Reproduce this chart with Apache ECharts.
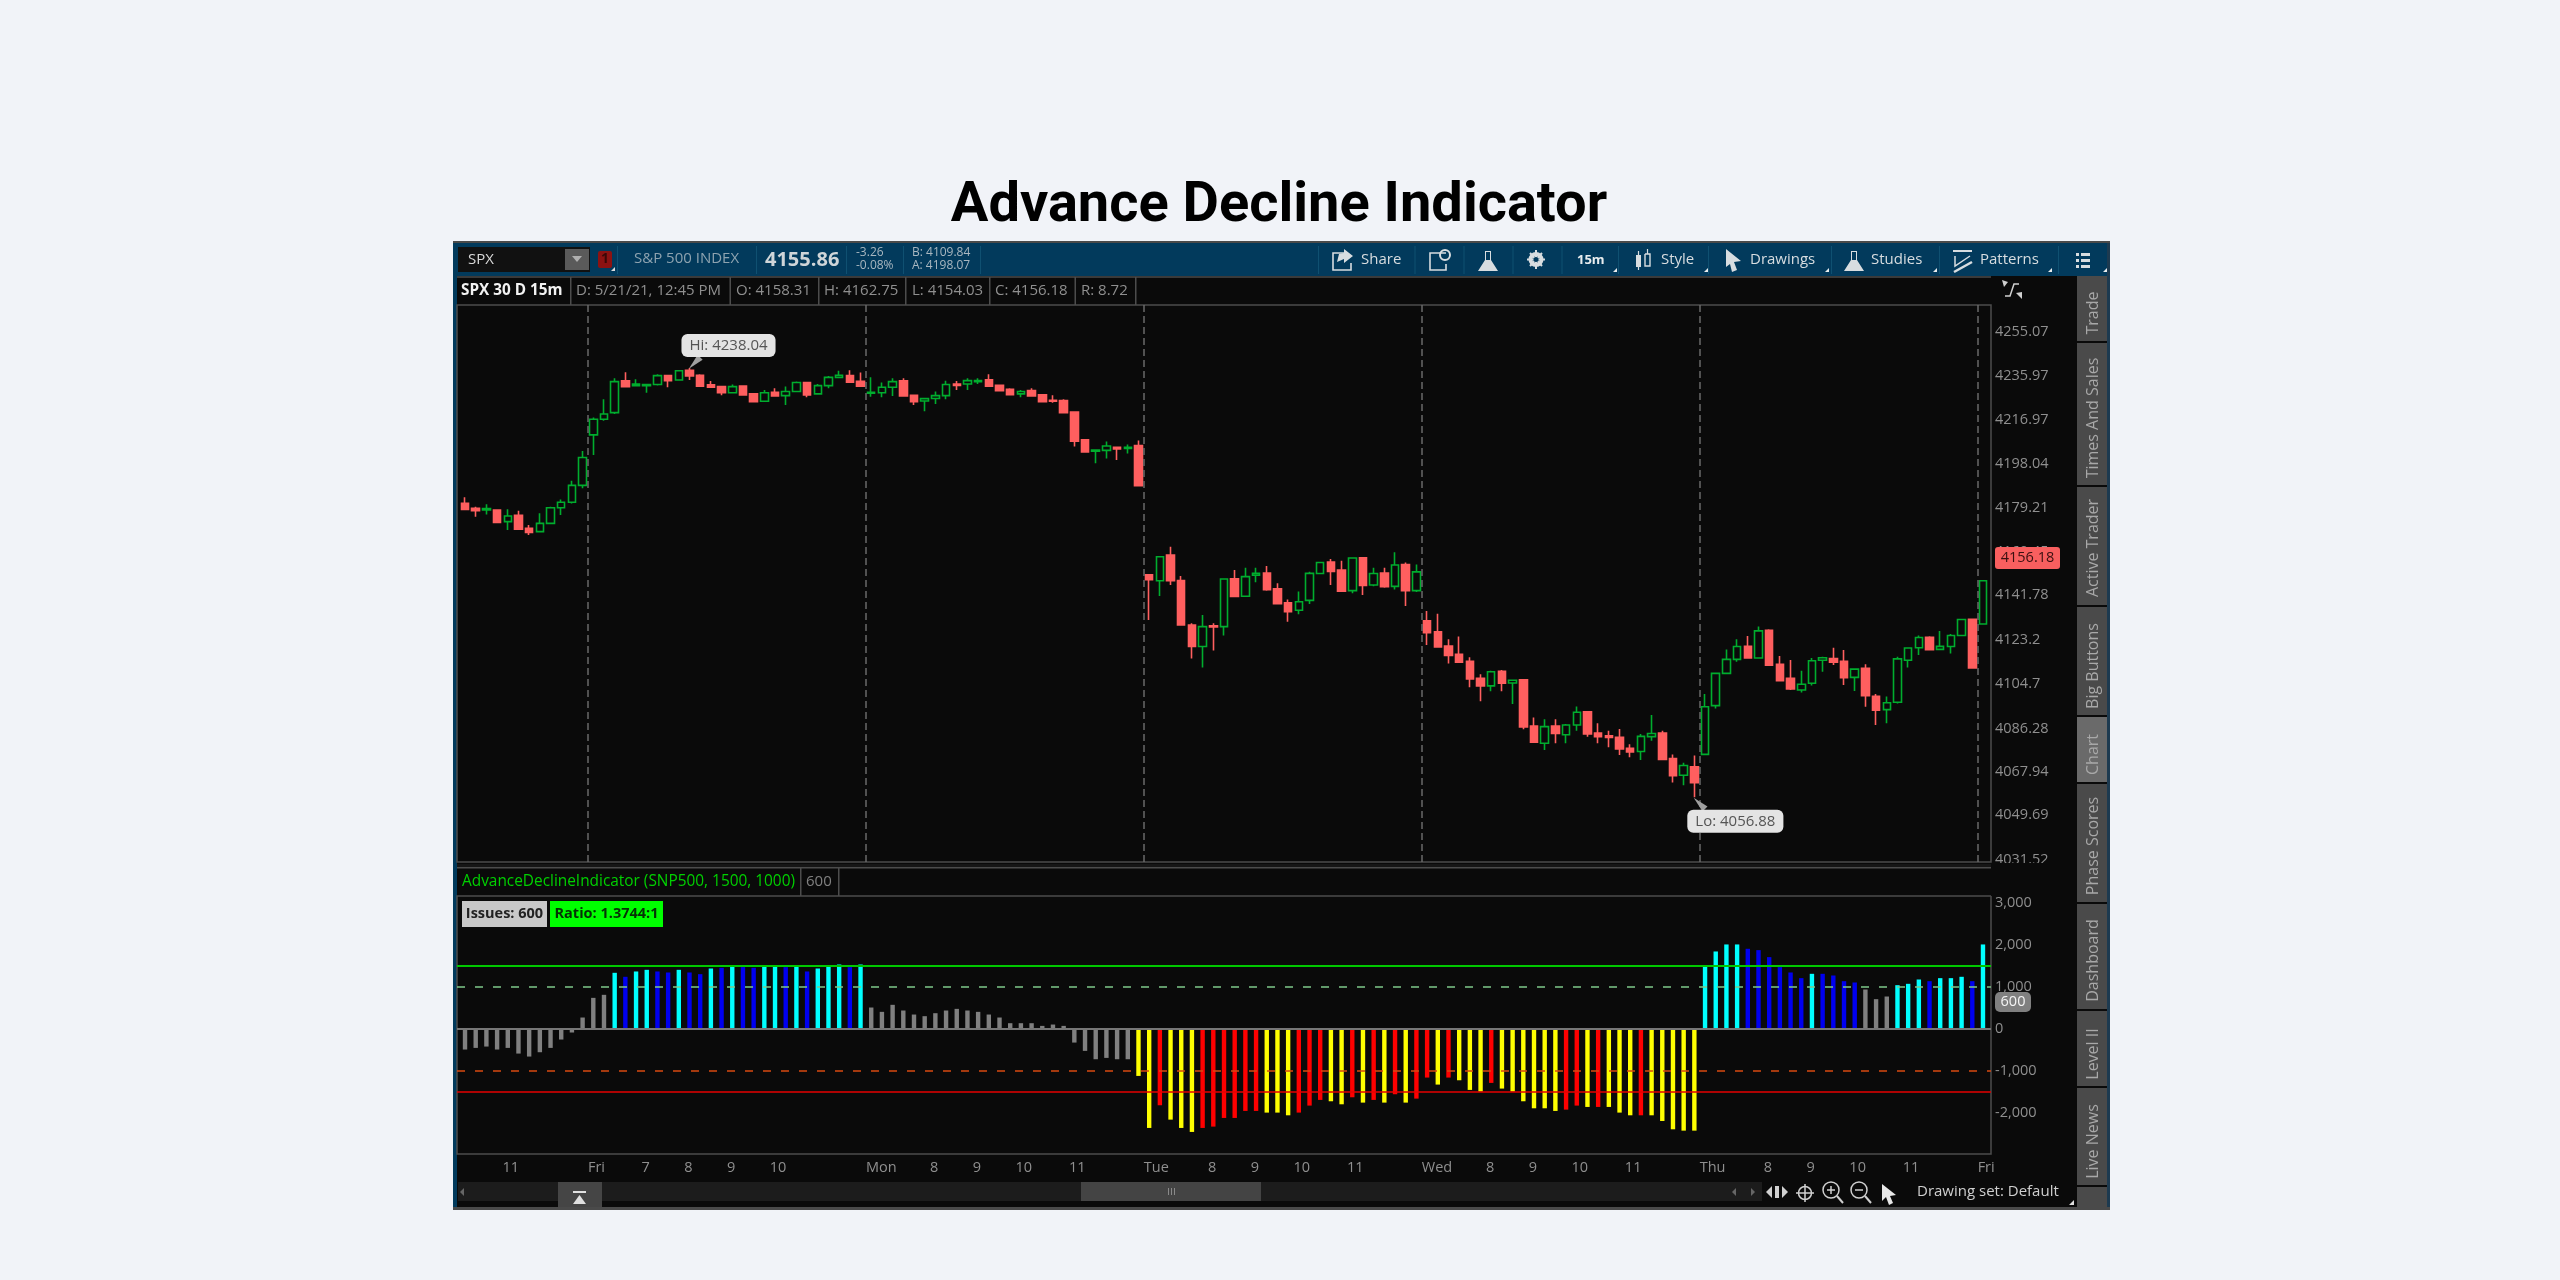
<!DOCTYPE html>
<html>
<head>
<meta charset="utf-8">
<title>Advance Decline Indicator</title>
<style>
    html, body { margin: 0; padding: 0; background: #f1f3f8; }
    #chart { width: 2560px; height: 1280px; }
</style>
<script src="https://cdn.jsdelivr.net/npm/echarts@6/dist/echarts.min.js"></script>
</head>
<body>
<div id="chart"></div>
<script>
// 15m SPX candles
var opens = [
    4180.9,4178.8,4178.1,4178.1,4173.2,4175.9,4170.4,4169.0,4172.5,4179.1,
    4181.4,4188.5,4209.8,4216.4,4219.2,4232.6,4230.6,4230.6,4231.1,4234.8,
    4233.0,4237.1,4235.0,4230.9,4230.2,4227.6,4230.4,4227.1,4224.0,4227.8,
    4226.4,4228.1,4231.9,4227.1,4230.6,4234.1,4234.8,4232.4,4227.4,4227.6,
    4229.9,4232.6,4226.5,4224.1,4225.2,4226.4,4231.3,4231.3,4232.3,4233.1,
    4230.7,4229.0,4227.1,4228.5,4226.7,4224.4,4224.3,4219.5,4207.7,4202.9,
    4203.3,4204.6,4204.1,4205.3,4150.8,4148.3,4159.1,4148.4,4129.6,4120.5,
    4129.3,4128.9,4149.1,4141.7,4150.6,4151.5,4144.9,4139.0,4135.8,4140.0,
    4151.3,4156.2,4152.8,4144.1,4158.0,4146.5,4151.5,4145.9,4155.1,4144.1,
    4131.4,4126.7,4120.7,4117.2,4114.3,4107.1,4103.9,4110.1,4105.1,4106.5,
    4087.0,4079.7,4087.0,4083.3,4087.4,4093.0,4084.0,4082.9,4082.2,4077.6,
    4076.2,4082.5,4084.0,4073.3,4066.2,4069.8,4075.0,4095.6,4109.2,4115.1,
    4120.6,4115.7,4127.4,4113.0,4107.1,4102.2,4105.0,4114.7,4115.4,4114.3,
    4107.5,4111.3,4099.5,4093.9,4097.0,4114.7,4120.0,4124.4,4119.3,4120.5,
    4125.2,4132.0,4130.0
];
var closes = [
    4178.4,4177.8,4178.7,4172.9,4175.6,4170.0,4168.6,4172.5,4179.1,4181.4,
    4188.5,4200.3,4216.4,4218.6,4232.3,4230.2,4231.3,4231.1,4234.8,4232.7,
    4236.9,4234.7,4230.4,4229.9,4227.6,4230.2,4226.7,4223.8,4227.6,4226.2,
    4228.1,4231.9,4226.7,4230.6,4234.1,4235.0,4232.0,4230.4,4227.8,4229.9,
    4232.3,4226.2,4223.8,4225.1,4226.4,4231.1,4230.7,4232.7,4232.7,4230.4,
    4228.5,4226.8,4228.1,4226.2,4223.8,4224.0,4219.2,4207.2,4202.6,4203.4,
    4205.1,4203.9,4204.6,4188.4,4148.7,4158.4,4148.3,4129.6,4120.5,4128.9,
    4128.8,4149.0,4141.6,4150.0,4151.4,4144.5,4138.6,4135.2,4139.4,4151.4,
    4156.0,4152.2,4143.9,4157.9,4146.3,4151.3,4145.8,4154.9,4144.1,4152.0,
    4126.4,4120.3,4116.8,4113.9,4106.8,4103.9,4109.9,4105.0,4106.3,4086.6,
    4080.1,4086.7,4083.8,4087.4,4092.8,4083.6,4082.5,4082.1,4077.3,4076.0,
    4082.6,4083.8,4072.9,4066.0,4070.3,4063.1,4095.1,4109.2,4115.1,4120.5,
    4115.7,4127.1,4112.6,4106.1,4102.6,4104.6,4114.5,4115.8,4113.9,4107.4,
    4111.0,4099.8,4093.7,4096.8,4115.3,4119.9,4124.3,4119.2,4120.6,4125.2,
    4131.9,4111.5,4148.3
];
var lows = [
    4178.1,4175.3,4176.2,4172.8,4169.7,4169.7,4167.6,4169.0,4172.5,4176.0,
    4180.9,4187.3,4201.3,4215.8,4218.6,4229.9,4230.4,4227.6,4230.7,4229.9,
    4233.0,4233.0,4230.2,4229.7,4226.5,4227.4,4226.5,4223.8,4224.0,4225.9,
    4222.4,4228.1,4225.7,4226.9,4229.5,4234.1,4232.0,4230.4,4225.9,4225.7,
    4226.2,4226.2,4222.4,4219.8,4222.9,4224.8,4228.8,4228.8,4231.3,4230.4,
    4228.5,4226.7,4225.7,4225.9,4223.6,4223.4,4219.2,4204.9,4202.5,4197.8,
    4199.9,4199.2,4202.0,4188.0,4131.7,4141.8,4146.5,4129.3,4115.5,4111.7,
    4118.8,4125.2,4141.6,4141.6,4147.6,4144.1,4138.3,4131.0,4134.1,4138.5,
    4151.0,4146.5,4143.9,4143.0,4142.3,4146.0,4145.3,4144.6,4137.6,4143.5,
    4121.2,4120.0,4113.4,4113.7,4103.3,4097.4,4101.6,4101.6,4096.3,4085.6,
    4079.9,4076.9,4079.7,4079.7,4085.0,4082.5,4079.7,4078.0,4074.8,4073.8,
    4072.6,4080.8,4072.6,4063.1,4062.0,4056.88,4074.8,4094.4,4108.9,4114.1,
    4115.5,4115.4,4112.3,4105.8,4102.2,4101.1,4104.1,4109.9,4112.7,4104.3,
    4101.8,4095.1,4087.4,4088.1,4096.5,4111.7,4116.9,4119.0,4119.3,4117.6,
    4125.2,4111.3,4130.0
];
var highs = [
    4183.5,4179.5,4180.5,4178.4,4178.4,4177.8,4171.8,4176.7,4179.5,4182.6,
    4190.5,4203.0,4217.1,4224.8,4233.7,4236.2,4233.3,4231.1,4235.4,4235.1,
    4237.2,4238.04,4235.4,4232.6,4230.6,4231.1,4230.7,4227.4,4228.8,4229.5,
    4230.2,4232.3,4232.1,4231.3,4234.7,4236.9,4237.1,4236.1,4234.1,4231.9,
    4233.7,4233.7,4226.7,4225.1,4228.1,4232.7,4232.6,4233.7,4233.7,4235.4,
    4231.0,4229.5,4228.8,4229.5,4226.9,4226.5,4224.8,4219.6,4208.1,4203.4,
    4207.0,4204.6,4205.8,4207.5,4150.8,4158.4,4162.6,4150.3,4130.3,4133.8,
    4130.3,4149.3,4152.8,4153.8,4153.8,4154.5,4147.2,4140.4,4143.7,4152.1,
    4156.3,4157.4,4156.7,4158.1,4158.0,4153.8,4153.8,4160.3,4156.0,4155.1,
    4135.5,4134.3,4123.6,4124.7,4116.0,4108.8,4110.3,4110.6,4106.5,4106.7,
    4090.6,4089.8,4089.8,4087.8,4095.2,4093.0,4088.1,4085.0,4085.7,4079.3,
    4083.6,4091.6,4085.0,4075.0,4071.5,4074.5,4100.5,4109.5,4119.3,4123.6,
    4125.0,4129.0,4127.8,4116.5,4114.8,4110.3,4115.7,4116.2,4120.0,4119.0,
    4111.3,4113.0,4100.5,4099.4,4116.2,4120.2,4125.2,4124.8,4127.1,4125.8,
    4132.0,4132.0,4148.3
];

// advance - decline histogram
var adValues = [
    -484,-445,-413,-484,-445,-580,-651,-548,-445,-246,
    -79,278,746,818,1342,1247,1374,1413,1374,1350,
    1413,1350,1310,1445,1461,1493,1477,1461,1493,1493,
    1477,1493,1374,1445,1493,1540,1477,1540,516,413,
    580,445,349,310,381,445,484,445,413,349,
    278,143,143,143,79,111,79,-318,-516,-715,
    -683,-715,-715,-1112,-2350,-1810,-2152,-2350,-2445,-2350,
    -2318,-2112,-2112,-1945,-1945,-1985,-1985,-2049,-1985,-1818,
    -1683,-1715,-1787,-1620,-1747,-1683,-1747,-1548,-1747,-1652,
    -1151,-1318,-1151,-1215,-1445,-1485,-1278,-1413,-1485,-1715,
    -1882,-1882,-1945,-1914,-1818,-1850,-1850,-1850,-1985,-2049,
    -2049,-2049,-2184,-2382,-2414,-2414,1493,1850,2017,2017,
    1914,1882,1715,1477,1350,1215,1318,1318,1278,1143,
    1112,945,715,778,1048,1080,1183,1143,1215,1215,
    1247,1143,2017
];
// U up-extreme, u up, n neutral, d down, D down-extreme
var adStates = (
    'nnnnnnnnnnnnnn' + 'UuUUuuUuuUuUuuUUuUuUUUuU' +
    'nnnnnnnnnnnnnnnnnnnnnnnnn' +
    'DDdDDDdddddd' + 'DDDdddDDdDdDdDd' + 'dDdDDDdDDDDDDddDdDDDdDDDDD' +
    'UUUUuuuuuuUuuuu' + 'nnn' + 'UUUuUUUuU'
).split('');
var adLevels = [1500, 1000, 0, -1000, -1500];

// candle slots where a session starts
var dayStarts = [11.5, 37.5, 63.5, 89.5, 115.5, 141.5];
var timeTickAt = [3.5, 11.5, 16.5, 20.5, 24.5, 28.5, 37.5, 43.5, 47.5, 51.5, 56.5, 63.5, 69.5, 73.5, 77.5, 82.5, 89.5, 95.5, 99.5, 103.5, 108.5, 115.5, 121.5, 125.5, 129.5, 134.5, 141.5];
var timeTickLabels = ['11', 'Fri', '7', '8', '9', '10', 'Mon', '8', '9', '10', '11', 'Tue', '8', '9', '10', '11', 'Wed', '8', '9', '10', '11', 'Thu', '8', '9', '10', '11', 'Fri'];

var priceTickAt = [4253.36, 4234.79, 4216.10, 4197.53, 4178.97, 4160.40, 4142.26, 4123.27, 4104.71, 4085.72, 4067.58, 4049.43, 4030.45];
var priceTickLabels = ['4255.07', '4235.97', '4216.97', '4198.04', '4179.21', '4160.45', '4141.78', '4123.2', '4104.7', '4086.28', '4067.94', '4049.69', '4031.52'];
var adTickAt = [3000, 2000, 1000, 0, -1000, -2000];
var adTickLabels = ['3,000', '2,000', '1,000', '0', '-1,000', '-2,000'];

var toolbarLabels = ['Share', '15m', 'Style', 'Drawings', 'Studies', 'Patterns'];
var sideTabs = ['Trade', 'Times And Sales', 'Active Trader', 'Big Buttons', 'Chart', 'Phase Scores', 'Dashboard', 'Level II', 'Live News'];

var UI_FONT = '"Open Sans", sans-serif';
var stateColors = { U: '#00ffff', u: '#0000f0', n: '#808080', d: '#ff0000', D: '#ffff00' };

function box(x, y, w, h, fill, z, r) {
    return { type: 'rect', silent: true, z: z || 1, shape: { x: x, y: y, width: w, height: h, r: r || 0 }, style: { fill: fill } };
}
function txt(s, x, y, color, size, weight, align, z) {
    return {
        type: 'text', silent: true, z: z || 5, x: x, y: y,
        style: { text: s, fill: color, font: (weight || 'normal') + ' ' + size + 'px ' + UI_FONT, textAlign: align || 'left', textVerticalAlign: 'middle', align: align || 'left', verticalAlign: 'middle' }
    };
}
function poly(points, fill, z) {
    return { type: 'polygon', silent: true, z: z || 5, shape: { points: points }, style: { fill: fill } };
}
function stroke(points, color, w, z) {
    return { type: 'polyline', silent: true, z: z || 5, shape: { points: points }, style: { stroke: color, lineWidth: w || 1.5, fill: null } };
}
function ring(cx, cy, r, color, w) {
    return { type: 'circle', silent: true, z: 5, shape: { cx: cx, cy: cy, r: r }, style: { stroke: color, lineWidth: w || 1.5, fill: null } };
}

function buildChrome() {
    var els = [];
    var bar = '#023a5c', line = '#4c4c4c', iconC = '#d8dde0';

    // frame
    els.push(box(453, 241, 1657, 969, '#0a0a0a', -5));
    els.push(box(453, 241, 1657, 2, '#4a4a4a', -4));
    els.push(box(453, 243, 1657, 33, bar, -4));
    els.push(box(453, 243, 4, 967, bar, -4));
    els.push(box(2107, 243, 3, 967, '#1d3a50', -4));
    els.push(box(453, 1207, 1657, 3, '#4a4a4a', -4));

    // symbol box
    els.push(box(458, 247, 132, 25, '#111111'));
    els.push(box(565, 249, 24, 21, '#5a5a5a', 2));
    els.push(poly([[572, 256], [582, 256], [577, 262]], '#b0b0b0'));
    els.push(txt('SPX', 468, 259.5, '#d8d8d8', 15));
    els.push(box(598, 251, 14, 17, '#8c1212', 2, 2));
    els.push(txt('1', 605, 259.5, '#3a0808', 14, 'bold', 'center'));
    els.push(poly([[611, 271], [615, 267], [615, 271]], '#dddddd'));

    [617, 756, 846, 903, 980, 1318, 1414.5, 1463.5, 1512.5, 1561.5, 1618, 1708, 1831, 1939, 2058].forEach(function (x) {
        els.push(box(x, 246, 1, 28, '#0f5071', 2));
    });
    els.push(txt('S&P 500 INDEX', 634, 259, '#8ea3b0', 15));
    els.push(txt('4155.86', 765, 260, '#cfd5d8', 20, 'bold'));
    els.push(txt('-3.26', 856, 253, '#a9b7c0', 12));
    els.push(txt('-0.08%', 856, 266, '#a9b7c0', 12));
    els.push(txt('B: 4109.84', 912, 253, '#a9b7c0', 12));
    els.push(txt('A: 4198.07', 912, 266, '#a9b7c0', 12));

    // toolbar
    els.push(txt(toolbarLabels[0], 1361, 259.5, '#d8dde0', 15));
    els.push(txt(toolbarLabels[1], 1577, 260, '#e8ecee', 13, 'bold'));
    els.push(txt(toolbarLabels[2], 1661, 259.5, '#d8dde0', 15));
    els.push(txt(toolbarLabels[3], 1750, 259.5, '#d8dde0', 15));
    els.push(txt(toolbarLabels[4], 1871, 259.5, '#d8dde0', 15));
    els.push(txt(toolbarLabels[5], 1980, 259.5, '#d8dde0', 15));
    [1613, 1704, 1825, 1933, 2048, 2103].forEach(function (x) {
        els.push(poly([[x, 272], [x + 4, 268], [x + 4, 272]], '#e8ecee'));
    });
    // share
    els.push(stroke([[1344, 253], [1333, 253], [1333, 270], [1351, 270], [1351, 263]], iconC, 1.6));
    els.push(poly([[1344, 249], [1353, 256], [1344, 263], [1344, 259], [1337, 262], [1339, 254], [1344, 253]], iconC));
    // calendar
    els.push(stroke([[1446, 253], [1430, 253], [1430, 270], [1446, 270], [1446, 264]], iconC, 1.6));
    els.push(ring(1445, 255, 5, iconC, 2));
    // flask
    [[1488, 250], [1854, 250]].forEach(function (p) {
        els.push(poly([[p[0] - 3, p[1] + 1], [p[0] + 3, p[1] + 1], [p[0] + 3, p[1] + 10], [p[0] + 10, p[1] + 21], [p[0] - 10, p[1] + 21], [p[0] - 3, p[1] + 10]], iconC));
        els.push(box(p[0] - 2, p[1] + 2, 4, 8, bar, 6));
    });
    // gear
    els.push(ring(1536, 259.5, 5.5, iconC, 4));
    [[1536, 250, 1536, 269], [1527, 259.5, 1545, 259.5], [1530, 253, 1542, 266], [1542, 253, 1530, 266]].forEach(function (g) {
        els.push(stroke([[g[0], g[1]], [g[2], g[3]]], iconC, 2));
    });
    els.push({ type: 'circle', silent: true, z: 6, shape: { cx: 1536, cy: 259.5, r: 2.5 }, style: { fill: bar } });
    // candle icon
    els.push(box(1636, 255, 5, 12, iconC, 5));
    els.push(stroke([[1638.5, 251], [1638.5, 270]], iconC, 1.2));
    els.push(stroke([[1645, 254], [1650, 254], [1650, 266], [1645, 266], [1645, 254]], iconC, 1.4));
    els.push(stroke([[1647.5, 249], [1647.5, 254]], iconC, 1.2));
    // arrow cursors
    els.push(poly([[1726, 249], [1741, 261], [1734, 262], [1737, 270], [1732, 272], [1730, 264], [1726, 267]], iconC));
    // patterns
    els.push(box(1953, 250, 19, 2, iconC));
    els.push(stroke([[1955, 256], [1955, 266], [1970, 256]], iconC, 1.5));
    els.push(stroke([[1954, 272], [1972, 262]], iconC, 2.5));
    // menu
    [253, 259, 265].forEach(function (y) {
        els.push(box(2076, y, 3, 3, iconC));
        els.push(box(2081, y, 9, 3, iconC));
    });

    // study row above the price pane
    els.push(box(457, 276, 1534, 2, '#3a3a3a', 2));
    els.push(txt('SPX 30 D 15m', 461, 290.5, '#f2f2f2', 15.3, 'bold'));
    [
        ['D: 5/21/21, 12:45 PM', 576], ['O: 4158.31', 736], ['H: 4162.75', 824],
        ['L: 4154.03', 912], ['C: 4156.18', 995], ['R: 8.72', 1081]
    ].forEach(function (c) {
        els.push(txt(c[0], c[1], 290.5, '#8f8f8f', 15));
    });
    [570, 729.5, 818, 905, 989, 1074.5, 1135].forEach(function (x) {
        els.push(box(x, 277, 1.5, 28, line, 2));
    });

    // curve icon, top of the price scale
    els.push(stroke([[2005, 296], [2010, 296], [2014, 284], [2019, 284]], '#d0d0d0', 1.5));
    els.push(poly([[2002, 280], [2008, 282], [2004, 287]], '#d0d0d0'));
    els.push(poly([[2016, 293], [2022, 292], [2022, 299]], '#d0d0d0'));

    // price tag, cuts off the scale label under it
    els.push(box(1995, 547, 65, 22, '#f85f5f', 20, 3));
    els.push(txt('4156.18', 2027.5, 558, '#3a1010', 14.5, 'normal', 'center', 21));
    // bottom of the price pane clips the last label
    els.push(box(1991, 863, 86, 33, '#0a0a0a', 18));

    // study row above the histogram
    els.push(box(457, 864, 1534, 4, '#161616', 2));
    els.push(box(457, 867, 1534, 1.5, line, 2));
    els.push(txt('AdvanceDeclineIndicator (SNP500, 1500, 1000)', 462, 881.5, '#00d000', 15.4));
    els.push(txt('600', 806, 881.5, '#808080', 15));
    els.push(box(800, 868, 1.5, 28, line, 2));
    els.push(box(838, 868, 1.5, 28, line, 2));
    els.push(box(462, 901, 85, 26, '#c8c8c8', 8));
    els.push(txt('Issues: 600', 504.5, 914, '#222222', 14.5, 'bold', 'center', 9));
    els.push(box(550, 901, 113, 26, '#00ff00', 8));
    els.push(txt('Ratio: 1.3744:1', 606.5, 914, '#063006', 14.5, 'bold', 'center', 9));
    els.push(box(1995, 992, 36, 20, '#808080', 20, 5));
    els.push(txt('600', 2013, 1002, '#f4f4f4', 14.5, 'normal', 'center', 21));

    // scrollbar and bottom tools
    els.push(box(458, 1182, 1304, 19, '#1c1c1c', 2));
    els.push(box(558, 1182, 44, 25, '#454545', 3));
    els.push(box(573, 1191, 13, 2, '#e0e0e0', 4));
    els.push(poly([[579.5, 1195], [586, 1204], [573, 1204]], '#e0e0e0'));
    els.push(box(1081, 1182, 180, 19, '#444444', 3));
    [1168, 1171, 1174].forEach(function (x) { els.push(box(x, 1188, 1, 7, '#8a8a8a', 4)); });
    els.push(poly([[464, 1188], [464, 1196], [460, 1192]], '#666666'));
    els.push(poly([[1736, 1188], [1736, 1196], [1732, 1192]], '#666666'));
    els.push(poly([[1751, 1188], [1751, 1196], [1755, 1192]], '#666666'));
    els.push(poly([[1766, 1192], [1772, 1186], [1772, 1198]], '#d0d0d0'));
    els.push(poly([[1788, 1192], [1782, 1186], [1782, 1198]], '#d0d0d0'));
    els.push(box(1775, 1186, 4, 12, '#d0d0d0'));
    els.push(ring(1805, 1193, 6.5, '#d0d0d0'));
    els.push(stroke([[1805, 1184], [1805, 1202]], '#d0d0d0'));
    els.push(stroke([[1796, 1193], [1814, 1193]], '#d0d0d0'));
    els.push(ring(1831, 1190, 8, '#d0d0d0'));
    els.push(stroke([[1837, 1196], [1843, 1203]], '#d0d0d0', 2));
    els.push(stroke([[1827, 1190], [1835, 1190]], '#d0d0d0'));
    els.push(stroke([[1831, 1186], [1831, 1194]], '#d0d0d0'));
    els.push(ring(1859, 1190, 8, '#d0d0d0'));
    els.push(stroke([[1865, 1196], [1871, 1203]], '#d0d0d0', 2));
    els.push(stroke([[1855, 1190], [1863, 1190]], '#d0d0d0'));
    els.push(poly([[1882, 1184], [1896, 1195], [1890, 1196], [1893, 1203], [1889, 1205], [1886, 1197], [1882, 1201]], '#e8e8e8'));
    els.push(txt('Drawing set: Default', 1917, 1192, '#cfcfcf', 15));
    els.push(poly([[2069, 1205], [2074, 1200], [2074, 1205]], '#e0e0e0'));

    // side tabs
    var tabEdges = [276, 343, 487, 607, 717, 784, 904, 1011, 1088, 1187];
    var tabMids = [313, 418, 548, 666, 754.5, 846, 960.5, 1054, 1141.5];
    sideTabs.forEach(function (name, i) {
        var active = name === 'Chart';
        els.push(box(2077, tabEdges[i], 30, tabEdges[i + 1] - tabEdges[i] - 2, active ? '#6a6a6a' : '#4a4a4a', 2));
        var t = txt(name, 2093, tabMids[i], '#a8a8a8', 16, 'normal', 'center');
        t.rotation = Math.PI / 2;
        els.push(t);
    });
    els.push(box(2077, 1187, 30, 20, '#4a4a4a', 2));

    return els;
}

var chart = echarts.init(document.getElementById('chart'), null, { renderer: 'canvas' });

var candleData = opens.map(function (o, i) {
    return [i, o, closes[i], lows[i], highs[i]];
});
var adData = adValues.map(function (v, i) {
    return [i, v];
});

var levelStyles = {
    '1500': { color: '#00c800', width: 2, type: 'solid' },
    '1000': { color: '#7fc98a', width: 1.5, type: [8, 10] },
    '0': { color: '#777777', width: 2, type: 'solid' },
    '-1000': { color: '#d84a10', width: 1.5, type: [8, 10] },
    '-1500': { color: '#e60000', width: 1.5, type: 'solid' }
};

// callout box on the candle extremes, the symbol itself stays invisible
function callout(coord, text, offset) {
    return {
        coord: coord, symbol: 'circle', symbolSize: 1, itemStyle: { color: 'transparent' },
        label: {
            show: true, formatter: text, offset: offset, position: 'inside', color: '#555555',
            fontFamily: UI_FONT, fontSize: 15, backgroundColor: '#e4e4e4', borderRadius: 6, padding: [4, 8, 4, 8]
        }
    };
}
function pointer(coord, rotate, offset) {
    return {
        coord: coord, symbol: 'triangle', symbolSize: [7, 16], symbolRotate: rotate, symbolOffset: offset,
        itemStyle: { color: '#a0a0a0' }, label: { show: false }
    };
}

var option = {
    animation: false,
    backgroundColor: '#f1f3f8',
    title: {
        text: 'Advance Decline Indicator',
        left: 1274, top: 174, textAlign: 'center',
        textStyle: { fontFamily: 'Roboto', fontWeight: 'bold', fontSize: 56, color: '#000000' }
    },
    grid: [
        { left: 457, top: 305, width: 1534, height: 557, show: true, backgroundColor: '#0a0a0a', borderColor: '#4c4c4c', borderWidth: 1.5 },
        { left: 457, top: 896, width: 1534, height: 258, show: true, backgroundColor: '#0a0a0a', borderColor: '#4c4c4c', borderWidth: 1.5 }
    ],
    xAxis: [
        { type: 'value', gridIndex: 0, min: -0.75, max: 142.75, axisLine: { show: false }, axisTick: { show: false }, axisLabel: { show: false }, splitLine: { show: false } },
        {
            type: 'value', gridIndex: 1, min: -0.75, max: 142.75, axisLine: { show: false }, axisTick: { show: false }, splitLine: { show: false },
            axisLabel: {
                customValues: timeTickAt, align: 'left', margin: 6, color: '#8f8f8f', fontFamily: UI_FONT, fontSize: 14.5,
                formatter: function (v) { return timeTickLabels[timeTickAt.indexOf(v)]; }
            }
        }
    ],
    yAxis: [
        {
            type: 'value', gridIndex: 0, position: 'right', min: 4029.6, max: 4264.62, axisLine: { show: false }, axisTick: { show: false }, splitLine: { show: false },
            axisLabel: {
                customValues: priceTickAt, margin: 4, color: '#8f8f8f', fontFamily: UI_FONT, fontSize: 14.5,
                formatter: function (v) { return priceTickLabels[priceTickAt.indexOf(v)]; }
            }
        },
        {
            type: 'value', gridIndex: 1, position: 'right', min: -2970, max: 3170, axisLine: { show: false }, axisTick: { show: false }, splitLine: { show: false },
            axisLabel: {
                customValues: adTickAt, margin: 4, color: '#8f8f8f', fontFamily: UI_FONT, fontSize: 14.5, padding: [4, 0, 0, 0],
                formatter: function (v) { return adTickLabels[adTickAt.indexOf(v)]; }
            }
        }
    ],
    series: [
        {
            name: 'SPX', type: 'candlestick', xAxisIndex: 0, yAxisIndex: 0,
            data: candleData, encode: { x: 0, y: [1, 2, 3, 4] }, barWidth: 8,
            itemStyle: { color: 'transparent', color0: '#ff5f5f', borderColor: '#00ad2e', borderColor0: '#ff5f5f', borderWidth: 1.6 },
            markLine: {
                silent: true, symbol: 'none', label: { show: false },
                lineStyle: { color: '#6a6a6a', width: 1.5, type: [7, 4] },
                data: dayStarts.map(function (d) { return { xAxis: d }; })
            },
            markPoint: {
                silent: true,
                data: [
                    pointer([21, 4238.04], 135, [5, -5]),
                    pointer([115, 4056.88], 45, [5, 6]),
                    callout([21, 4238.04], 'Hi: 4238.04', [39, -22.5]),
                    callout([115, 4056.88], 'Lo: 4056.88', [41, 24])
                ]
            }
        },
        {
            name: 'AdvanceDecline', type: 'bar', xAxisIndex: 1, yAxisIndex: 1,
            data: adData, barWidth: 4.4,
            itemStyle: { color: function (p) { return stateColors[adStates[p.dataIndex]]; } },
            markLine: {
                silent: true, symbol: 'none', label: { show: false }, precision: 0,
                data: adLevels.map(function (v) {
                    return { yAxis: v, lineStyle: levelStyles[String(v)] };
                })
            }
        }
    ],
    graphic: { elements: buildChrome() }
};

chart.setOption(option);
</script>
</body>
</html>
